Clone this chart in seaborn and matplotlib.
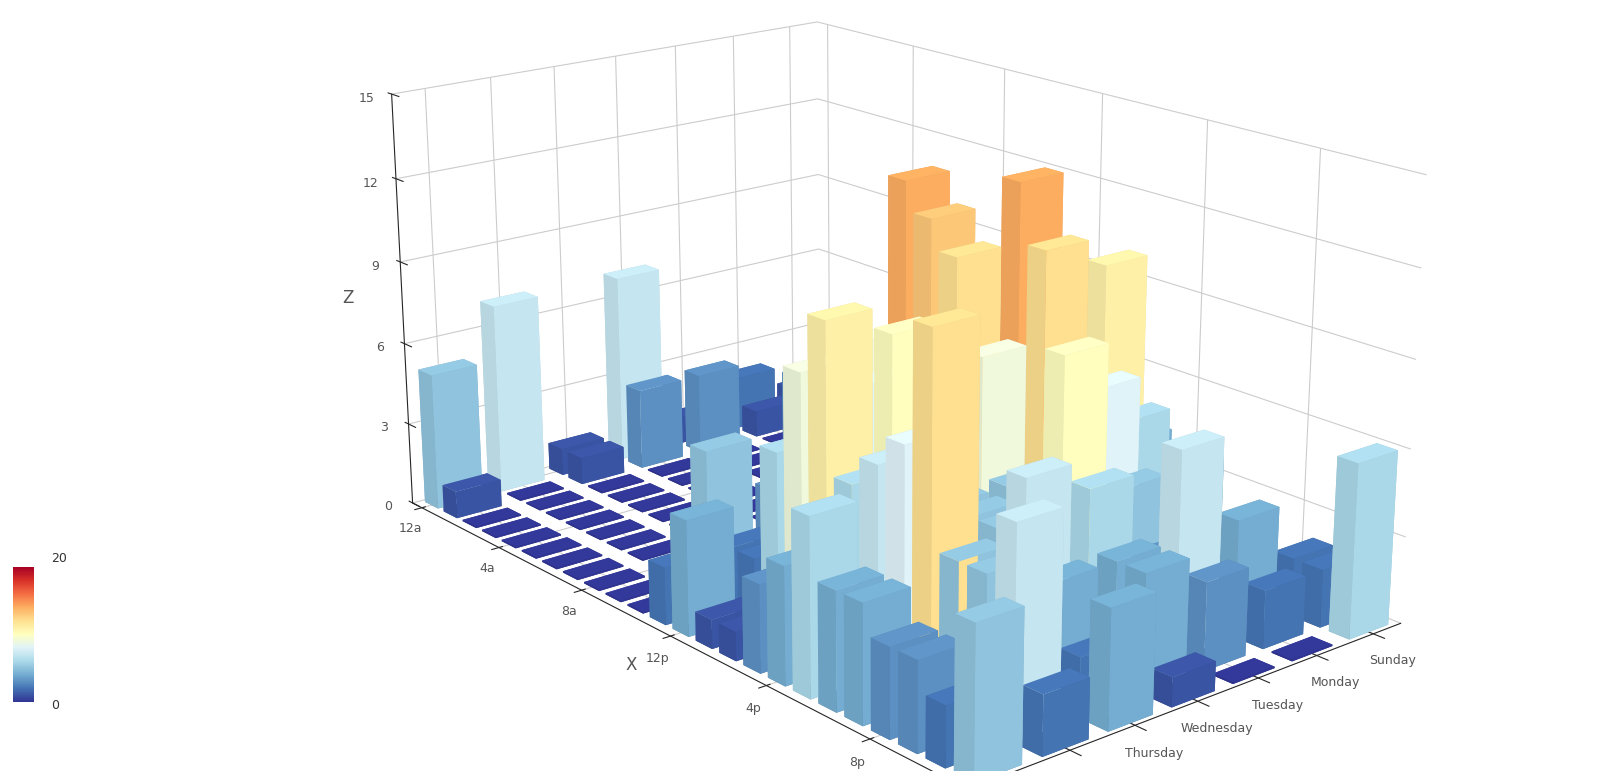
import numpy as np
import matplotlib
matplotlib.use("Agg")
import matplotlib.pyplot as plt
import seaborn as sns

hours = ['12a', '1a', '2a', '3a', '4a', '5a', '6a', '7a', '8a', '9a', '10a', '11a',
         '12p', '1p', '2p', '3p', '4p', '5p', '6p', '7p', '8p', '9p', '10p', '11p']
days = ['Saturday', 'Friday', 'Thursday', 'Wednesday', 'Tuesday', 'Monday', 'Sunday']

# values per day (rows, same order as days) and hour (columns)
saturday = [5, 1, 0, 0, 0, 0, 0, 0, 0, 0, 0, 2, 4, 1, 1, 3, 4, 6, 4, 4, 3, 3, 2, 5]
friday = [7, 0, 0, 0, 0, 0, 0, 0, 0, 0, 5, 2, 2, 6, 9, 11, 6, 7, 8, 12, 5, 5, 7, 2]
thursday = [1, 1, 0, 0, 0, 0, 0, 0, 0, 0, 3, 2, 1, 9, 8, 10, 6, 5, 5, 5, 7, 4, 2, 4]
wednesday = [7, 3, 0, 0, 0, 0, 0, 0, 1, 0, 5, 4, 7, 14, 13, 12, 9, 5, 5, 10, 6, 4, 4, 1]
tuesday = [1, 3, 0, 0, 0, 1, 0, 0, 0, 2, 4, 4, 2, 4, 4, 14, 12, 1, 8, 5, 3, 7, 3, 0]
monday = [2, 1, 0, 3, 0, 0, 0, 0, 2, 0, 4, 1, 5, 10, 5, 7, 11, 6, 0, 5, 3, 4, 2, 0]
sunday = [1, 0, 0, 0, 0, 0, 0, 0, 0, 0, 1, 0, 2, 1, 3, 4, 0, 0, 0, 0, 1, 2, 2, 6]

values = np.array([saturday, friday, thursday, wednesday, tuesday, monday, sunday])

sns.set_style("white")
cmap = sns.color_palette("RdYlBu_r", as_cmap=True)
norm = matplotlib.colors.Normalize(0, 20)

fig = plt.figure(figsize=(16.05, 7.71), dpi=100)
ax = fig.add_axes([0.08, -0.2, 0.92, 1.45], projection="3d")
ax.set_proj_type("persp", focal_length=0.5)

xs, ys, zs = [], [], []
for d in range(len(days)):
    for h in range(len(hours)):
        xs.append(h)
        ys.append(d)
        zs.append(values[d, h])
xs, ys, zs = np.array(xs), np.array(ys), np.array(zs, dtype=float)
heights = np.where(zs == 0, 0.05, zs)

# per-face colours: bottom, top, -y, +y, -x, +x
base = cmap(norm(zs))[:, :3]
factors = [0.8, 1.04, 0.93, 0.93, 0.93, 1.0]
face_colors = []
for c in base:
    for f in factors:
        face_colors.append(np.clip(c * f, 0, 1))
ax.bar3d(xs - 0.35, ys - 0.35, np.zeros_like(zs), 0.7, 0.7, heights,
         color=face_colors, shade=False, edgecolor="none")

ax.set_xlim(-0.5, 23.5)
ax.set_ylim(-0.5, 6.5)
ax.set_zlim(0, 15)
ax.set_xticks(range(0, 24, 4))
ax.set_xticklabels(hours[::4], fontsize=9, color="#555555")
ax.set_yticks(range(7))
ax.set_yticklabels(days, fontsize=9, color="#555555")
ax.set_zticks(range(0, 16, 3))
ax.set_zticklabels(range(0, 16, 3), fontsize=9, color="#555555")
ax.set_xlabel("X", fontsize=12, color="#555555")
ax.set_ylabel("")
ax.set_zlabel("Z", fontsize=12, color="#555555")
ax.zaxis._axinfo["juggled"] = (1, 2, 0)
for axis in (ax.xaxis, ax.yaxis, ax.zaxis):
    axis.set_pane_color((1, 1, 1, 0))
    axis._axinfo["grid"]["color"] = "#cccccc"
    axis._axinfo["grid"]["linewidth"] = 0.8
ax.set_box_aspect((1.6, 1.0, 0.8))
ax.view_init(elev=18, azim=-40)

cax = fig.add_axes([0.008, 0.09, 0.013, 0.175])
cb = fig.colorbar(matplotlib.cm.ScalarMappable(norm=norm, cmap=cmap), cax=cax,
                  ticks=[])
cb.outline.set_visible(False)
fig.text(0.032, 0.275, "20", fontsize=9, color="#333333", va="center")
fig.text(0.032, 0.085, "0", fontsize=9, color="#333333", va="center")

fig.savefig("out.png", dpi=100)
